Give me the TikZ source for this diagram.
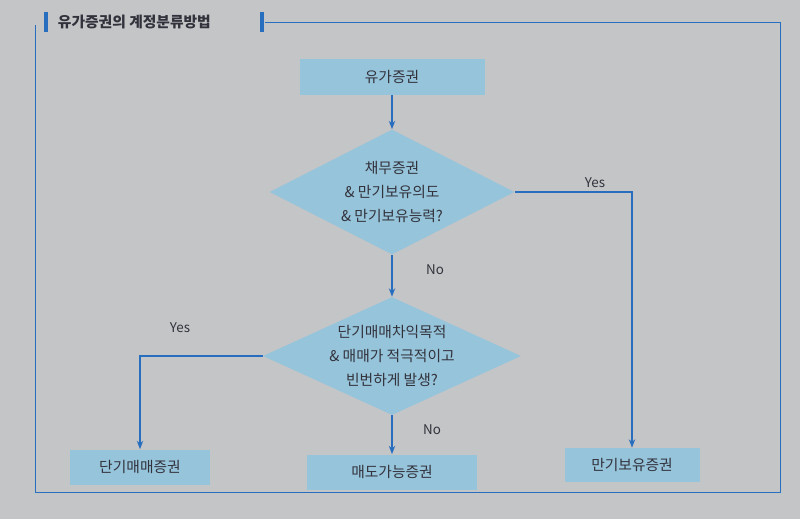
\documentclass[tikz,border=0pt]{standalone}
\usepackage{fontspec}
\setmainfont{Noto Sans CJK KR}
\usetikzlibrary{shapes.geometric,arrows.meta}
\definecolor{page}{RGB}{196,197,199}
\definecolor{boxc}{RGB}{150,196,218}
\definecolor{linec}{RGB}{40,110,190}
\definecolor{txt}{RGB}{50,50,60}
\tikzset{
 px/.style={x=0.025cm,y=-0.025cm},
 boxn/.style={fill=boxc,draw=none,text=txt,font=\fontsize{10.5}{12}\selectfont,inner sep=0pt},
 dia/.style={diamond,fill=boxc,draw=none,inner sep=0pt},
 diat/.style={text=txt,font=\fontsize{10.5}{17}\selectfont,align=center},
 conn/.style={draw=linec,line width=1pt,-{Stealth[length=6pt]}},
 lab/.style={text=txt,font=\fontsize{9.5}{11}\selectfont}
}
\begin{document}
\begin{tikzpicture}[px]
\fill[page] (0,0) rectangle (800,519);
\useasboundingbox (0,0) rectangle (800,519);
\draw[linec,line width=0.6pt] (265,22) -- (780,22) -- (780,492) -- (35,492) -- (35,25);
\fill[linec] (44,12) rectangle (48,32);
\fill[linec] (260,12) rectangle (264,32);
\node[text=txt,font=\fontsize{10.5}{12}\selectfont\bfseries,anchor=west] (title) at (53,22) {유가증권의 계정분류방법};
\node[boxn,minimum width=185*0.025cm,minimum height=35*0.025cm] (top) at (392,77) {유가증권};
\node[dia,minimum width=245*0.025cm,minimum height=125*0.025cm] (d1) at (392,192) {};
\node[diat] (d1t) at (392,192) {채무증권\\\& 만기보유의도\\\& 만기보유능력?};
\node[dia,minimum width=258*0.025cm,minimum height=118*0.025cm] (d2) at (392,356) {};
\node[diat] (d2t) at (392,356) {단기매매차익목적\\\& 매매가 적극적이고\\빈번하게 발생?};
\node[boxn,minimum width=140*0.025cm,minimum height=35*0.025cm] (b1) at (140,467) {단기매매증권};
\node[boxn,minimum width=170*0.025cm,minimum height=35*0.025cm] (b2) at (392,472) {매도가능증권};
\node[boxn,minimum width=135*0.025cm,minimum height=34*0.025cm] (b3) at (632,465) {만기보유증권};
\draw[conn] (top.south) -- (d1.north);
\draw[conn] (d1.east) -| (b3.north);
\draw[conn] (d1.south) -- (d2.north);
\draw[conn] (d2.west) -| (b1.north);
\draw[conn] (d2.south) -- (b2.north);
\node[lab] (y1) at (595,183) {Yes};
\node[lab] (n1) at (435,270) {No};
\node[lab] (y2) at (180,328) {Yes};
\node[lab] (n2) at (432,430) {No};
\end{tikzpicture}
\end{document}
